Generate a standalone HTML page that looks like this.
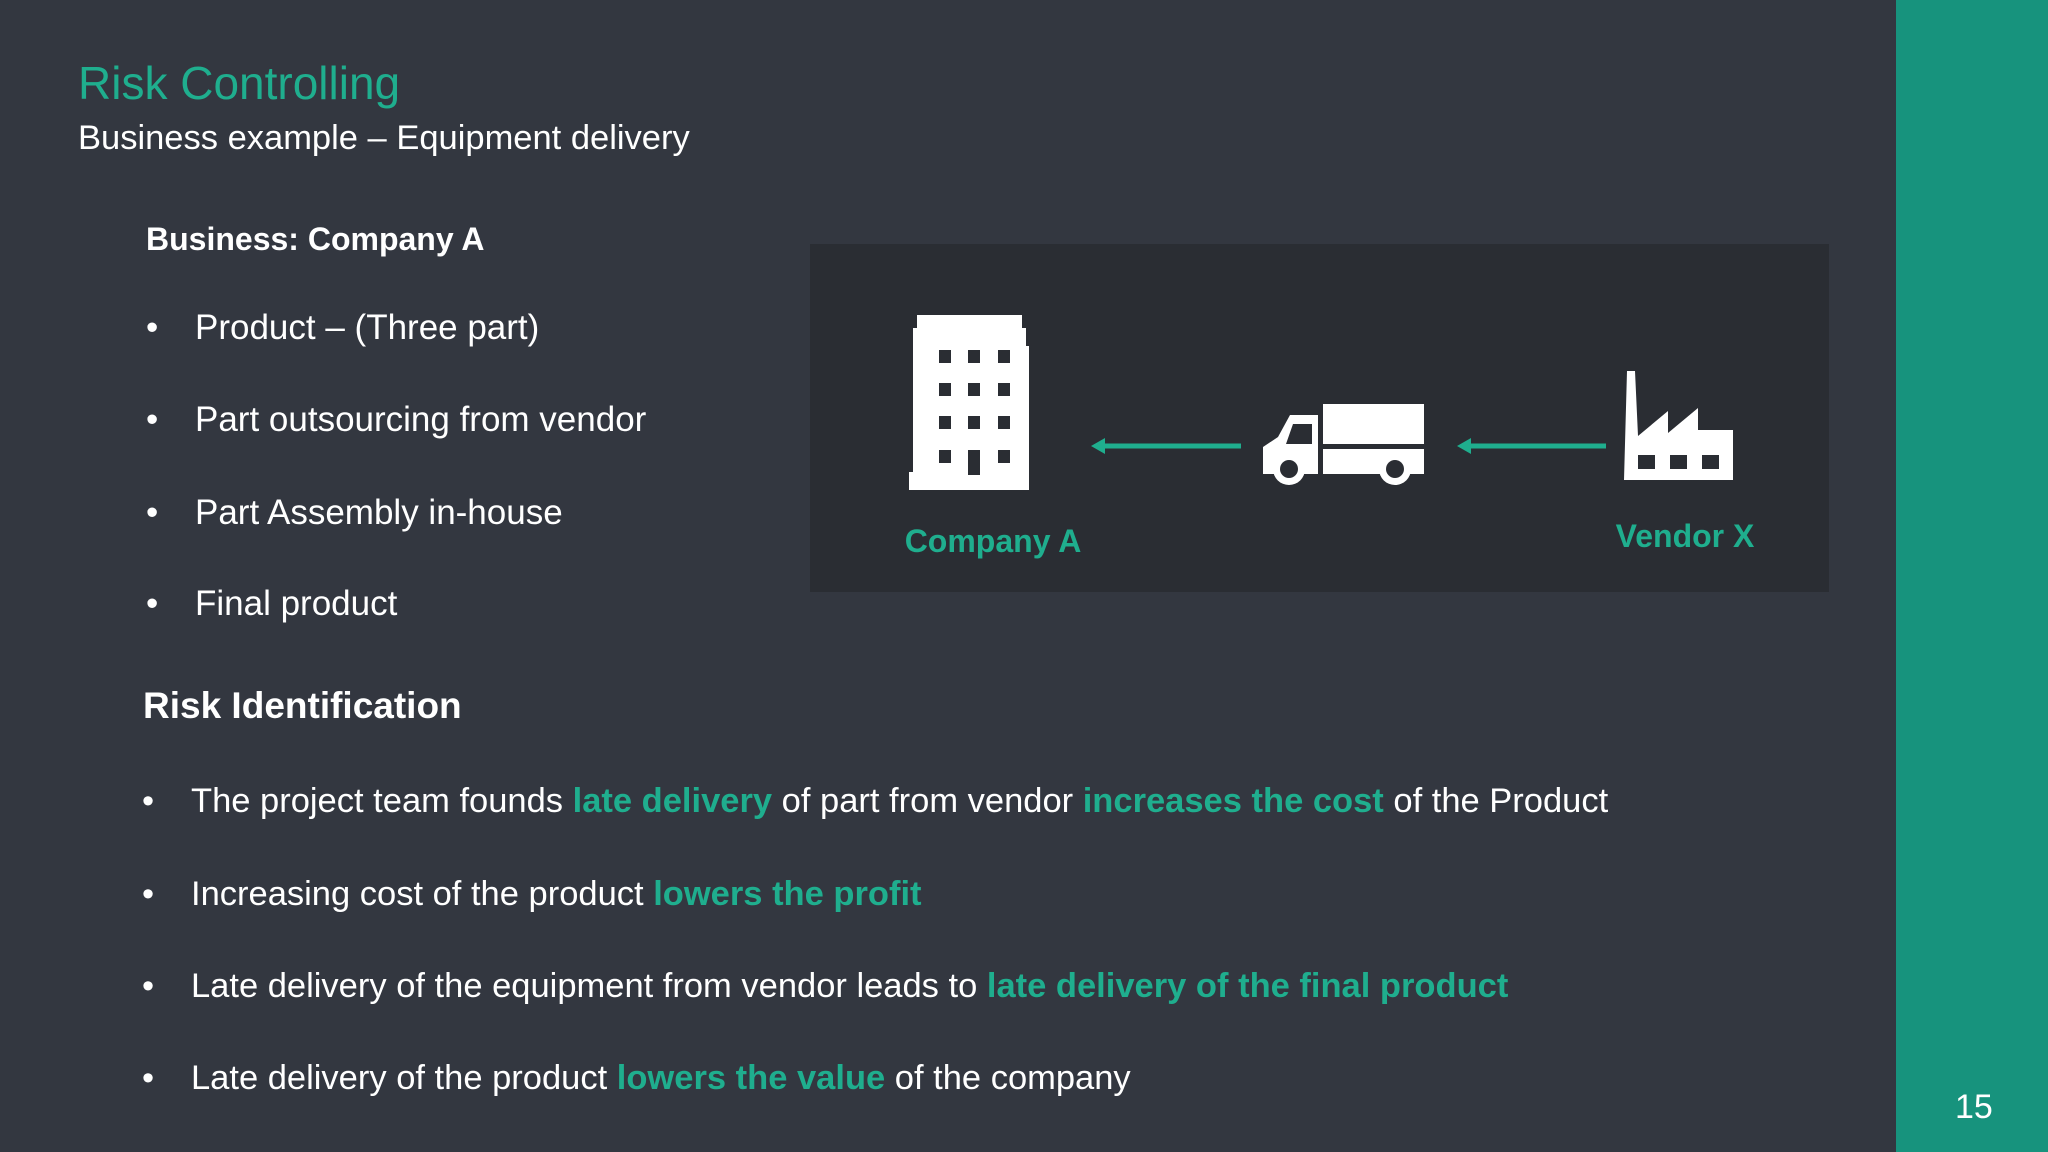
<!DOCTYPE html>
<html><head><meta charset="utf-8"><style>
body{margin:0;width:2048px;height:1152px;background:#333740;position:relative;overflow:hidden;font-family:"Liberation Sans",sans-serif;color:#fff}
.a{position:absolute;white-space:nowrap}
.t{color:#1fae8e;font-weight:bold}
.b{font-size:35px}
.r{font-size:34.5px}
</style></head><body>
<div class="a" style="left:78px;top:56px;font-size:46px;color:#1fae8e">Risk Controlling</div>
<div class="a" style="left:78px;top:119px;font-size:34.5px">Business example – Equipment delivery</div>
<div class="a" style="left:146px;top:221px;font-size:32px;font-weight:bold">Business: Company A</div>
<div class="a b" style="left:146px;top:308px">•</div><div class="a b" style="left:195px;top:308px">Product – (Three part)</div>
<div class="a b" style="left:146px;top:400px">•</div><div class="a b" style="left:195px;top:400px">Part outsourcing from vendor</div>
<div class="a b" style="left:146px;top:493px">•</div><div class="a b" style="left:195px;top:493px">Part Assembly in-house</div>
<div class="a b" style="left:146px;top:584px">•</div><div class="a b" style="left:195px;top:584px">Final product</div>
<div class="a" style="left:143px;top:685px;font-size:37px;font-weight:bold">Risk Identification</div>
<div class="a r" style="left:142px;top:782px">•</div><div class="a r" style="left:191px;top:782px">The project team founds <span class="t">late delivery</span> of part from vendor <span class="t">increases the cost</span> of the Product</div>
<div class="a r" style="left:142px;top:875px">•</div><div class="a r" style="left:191px;top:875px">Increasing cost of the product <span class="t">lowers the profit</span></div>
<div class="a r" style="left:142px;top:967px">•</div><div class="a r" style="left:191px;top:967px">Late delivery of the equipment from vendor leads to <span class="t">late delivery of the final product</span></div>
<div class="a r" style="left:142px;top:1059px">•</div><div class="a r" style="left:191px;top:1059px">Late delivery of the product <span class="t">lowers the value</span> of the company</div>
<div class="a" style="left:1896px;top:0;width:152px;height:1152px;background:#17937d"></div>
<div class="a" style="left:1955px;top:1088px;font-size:34px">15</div>
<svg class="a" style="left:0;top:0" width="2048" height="1152">
<rect x="810" y="244" width="1019" height="348" fill="#2a2d33"/>
<g fill="#fff">
<path d="M930 315h92v13h4v18h3v144h-120v-18h4v-144h4v-13h3z"/>
</g>
<g fill="#2a2d33">
<rect x="939" y="350" width="12" height="13"/><rect x="968" y="350" width="12" height="13"/><rect x="998" y="350" width="12" height="13"/>
<rect x="939" y="383" width="12" height="13"/><rect x="968" y="383" width="12" height="13"/><rect x="998" y="383" width="12" height="13"/>
<rect x="939" y="416" width="12" height="13"/><rect x="968" y="416" width="12" height="13"/><rect x="998" y="416" width="12" height="13"/>
<rect x="939" y="450" width="12" height="13"/><rect x="968" y="450" width="12" height="25"/><rect x="998" y="450" width="12" height="13"/>
</g>
<g stroke="#1fae8e" stroke-width="5" fill="#1fae8e">
<line x1="1100" y1="446" x2="1241" y2="446"/><path d="M1091 446l14-8v16z" stroke="none"/>
<line x1="1466" y1="446" x2="1606" y2="446"/><path d="M1457 446l14-8v16z" stroke="none"/>
</g>
<g fill="#fff">
<rect x="1323" y="404" width="101" height="40"/>
<rect x="1323" y="449" width="101" height="25"/>
<path d="M1318 415h-28l-12 22-15 10v27h55z"/>
<circle cx="1289" cy="469" r="16"/><circle cx="1395" cy="469" r="16"/>
</g>
<g fill="#2a2d33"><path d="M1293 424h19v20h-26z"/><circle cx="1289" cy="469" r="9"/><circle cx="1395" cy="469" r="9"/></g>
<path d="M1627 371h8l3 65 30-25v22l30-25v22l35 0v50h-109z" fill="#fff"/>
<g fill="#2a2d33"><rect x="1638" y="455" width="17" height="14"/><rect x="1670" y="455" width="17" height="14"/><rect x="1702" y="455" width="17" height="14"/></g>
<text x="993" y="552" text-anchor="middle" font-family="Liberation Sans" font-weight="bold" font-size="32" fill="#1fae8e">Company A</text>
<text x="1685" y="547" text-anchor="middle" font-family="Liberation Sans" font-weight="bold" font-size="32" fill="#1fae8e">Vendor X</text>
</svg>
</body></html>
